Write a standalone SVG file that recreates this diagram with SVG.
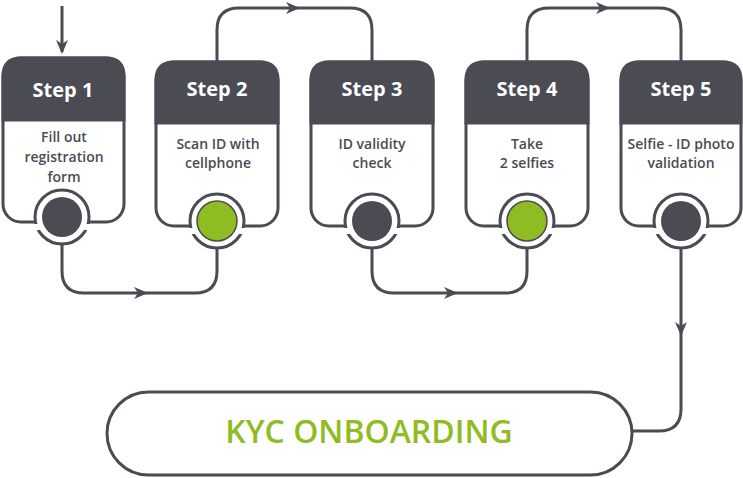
<svg xmlns="http://www.w3.org/2000/svg" width="743" height="478" viewBox="0 0 743 478">
<style>
.ln{fill:none;stroke:#4a4b53;stroke-width:3;stroke-linejoin:round}
.box{fill:#fff;stroke:#4a4b53;stroke-width:3}
.hd{fill:#4a4b53}
.t{font-family:"Open Sans","Noto Sans",sans-serif;font-weight:bold;font-size:20px;fill:#fff;text-anchor:middle}
.b{font-family:"Open Sans","Noto Sans",sans-serif;font-weight:600;font-size:14px;fill:#4a4b53;text-anchor:middle}
.ring{fill:#fff;stroke:#4a4b53;stroke-width:3}
</style>
<defs>
<marker id="ar" viewBox="0 0 10 10" refX="5" refY="5" markerWidth="6" markerHeight="6" markerUnits="userSpaceOnUse" orient="auto"><path d="M0,0L10,5L0,10L3,5Z" fill="#4a4b53"/></marker>
<symbol id="x"/>
</defs>
<g id="connectors">
<path class="ln" d="M62,6V52"/>
<path d="M56,40L62,54L68,40L62,44Z" fill="#4a4b53"/>
<path class="ln" d="M217,62V30Q217,8 239,8H350Q372,8 372,30V62"/>
<path d="M286,2L300,8L286,14L290,8Z" fill="#4a4b53"/>
<path class="ln" d="M527,62V30Q527,8 549,8H659Q681,8 681,30V62"/>
<path d="M596,2L610,8L596,14L600,8Z" fill="#4a4b53"/>
<path class="ln" d="M62,240V271Q62,293 84,293H195Q217,293 217,271V240"/>
<path d="M134,287L148,293L134,299L138,293Z" fill="#4a4b53"/>
<path class="ln" d="M372,240V271Q372,293 394,293H505Q527,293 527,271V240"/>
<path d="M444,287L458,293L444,299L448,293Z" fill="#4a4b53"/>
<path class="ln" d="M681,240V409Q681,431 659,431H632"/>
<path d="M675,322L681,336L687,322L681,326Z" fill="#4a4b53"/>
</g>
<g id="step1">
<rect class="box" x="3" y="58" width="121" height="164" rx="18"/>
<path class="hd" d="M3,76Q3,58 21,58H106Q124,58 124,76V120H3Z" stroke="#4a4b53" stroke-width="3"/>
<text class="t" x="63" y="97">Step 1</text>
<text class="b" x="64" y="142">Fill out</text><text class="b" x="64" y="162">registration</text><text class="b" x="64" y="182">form</text>
<circle class="ring" cx="62" cy="217" r="27"/><rect x="34" y="224" width="56" height="6" fill="#fff"/>
<circle cx="62" cy="217" r="20" fill="#4a4b53"/>
</g>
<g id="step2">
<rect class="box" x="156" y="62" width="122" height="164" rx="18"/>
<path class="hd" d="M156,80Q156,62 174,62H260Q278,62 278,80V123H156Z" stroke="#4a4b53" stroke-width="3"/>
<text class="t" x="217" y="96">Step 2</text>
<text class="b" x="218" y="149">Scan ID with</text><text class="b" x="218" y="168">cellphone</text>
<circle class="ring" cx="217" cy="221" r="27"/><rect x="189" y="228" width="56" height="6" fill="#fff"/>
<circle cx="217" cy="221" r="20" fill="#8fbc22" stroke="#4a4b53" stroke-width="1.5"/>
</g>
<g id="step3">
<rect class="box" x="311" y="62" width="122" height="164" rx="18"/>
<path class="hd" d="M311,80Q311,62 329,62H415Q433,62 433,80V123H311Z" stroke="#4a4b53" stroke-width="3"/>
<text class="t" x="372" y="96">Step 3</text>
<text class="b" x="372" y="149">ID validity</text><text class="b" x="372" y="168">check</text>
<circle class="ring" cx="372" cy="221" r="27"/><rect x="344" y="228" width="56" height="6" fill="#fff"/>
<circle cx="372" cy="221" r="20" fill="#4a4b53"/>
</g>
<g id="step4">
<rect class="box" x="466" y="62" width="122" height="164" rx="18"/>
<path class="hd" d="M466,80Q466,62 484,62H570Q588,62 588,80V123H466Z" stroke="#4a4b53" stroke-width="3"/>
<text class="t" x="527" y="96">Step 4</text>
<text class="b" x="527" y="149">Take</text><text class="b" x="527" y="168">2 selfies</text>
<circle class="ring" cx="527" cy="221" r="27"/><rect x="499" y="228" width="56" height="6" fill="#fff"/>
<circle cx="527" cy="221" r="20" fill="#8fbc22" stroke="#4a4b53" stroke-width="1.5"/>
</g>
<g id="step5">
<rect class="box" x="621" y="62" width="120" height="164" rx="18"/>
<path class="hd" d="M621,80Q621,62 639,62H723Q741,62 741,80V123H621Z" stroke="#4a4b53" stroke-width="3"/>
<text class="t" x="681" y="96">Step 5</text>
<text class="b" x="681" y="149">Selfie - ID photo</text><text class="b" x="681" y="168">validation</text>
<circle class="ring" cx="681" cy="221" r="27"/><rect x="653" y="228" width="56" height="6" fill="#fff"/>
<circle cx="681" cy="221" r="20" fill="#4a4b53"/>
</g>
<g id="kyc">
<rect class="box" x="107" y="392" width="525" height="83" rx="41.5"/>
<text x="369" y="443" font-family="'Open Sans','Noto Sans',sans-serif" font-weight="600" font-size="32" fill="#8fbc22" text-anchor="middle">KYC ONBOARDING</text>
</g>
</svg>
